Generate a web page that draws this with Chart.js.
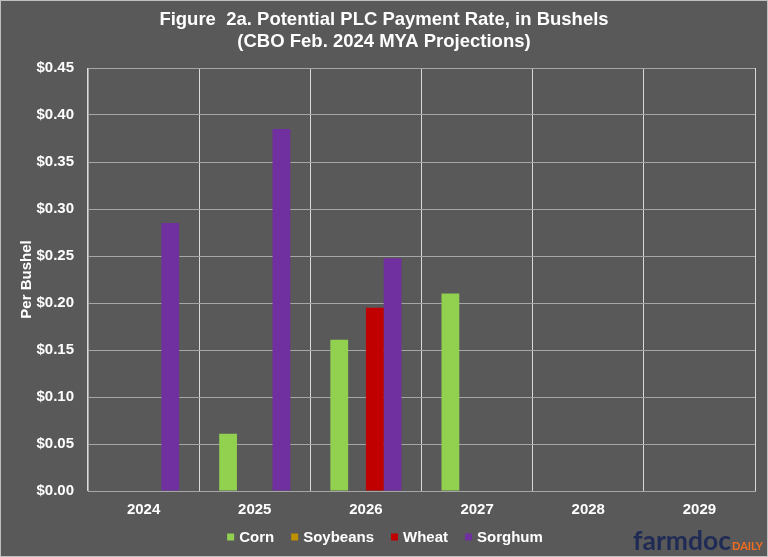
<!DOCTYPE html>
<html>
<head>
<meta charset="utf-8">
<script src="https://cdn.jsdelivr.net/npm/chart.js@4/dist/chart.umd.min.js"></script>
<style>
  html, body { margin: 0; padding: 0; background: #595959; }
  #wrap { width: 768px; height: 557px; }
</style>
</head>
<body>
<div id="wrap"><canvas id="c" width="768" height="557"></canvas></div>
<script>
const categories = ['2024', '2025', '2026', '2027', '2028', '2029'];
const corn     = [0, 0.061, 0.161, 0.210, 0, 0];
const soybeans = [0, 0, 0, 0, 0, 0];
const wheat    = [0, 0, 0.195, 0, 0, 0];
const sorghum  = [0.285, 0.385, 0.2475, 0, 0, 0];
const seriesNames = ['Corn', 'Soybeans', 'Wheat', 'Sorghum'];
const yTicks = [0, 0.05, 0.10, 0.15, 0.20, 0.25, 0.30, 0.35, 0.40, 0.45];
const titleLines = ['Figure  2a. Potential PLC Payment Rate, in Bushels', '(CBO Feb. 2024 MYA Projections)'];

const colors = ['#92D050', '#BF9000', '#C00000', '#7030A0'];
const FONT = '"Liberation Sans", Arial, sans-serif';
const LOGOFONT = 'Lato, "Open Sans", sans-serif';
const TEXT = '#FFFFFF';

function fitFont(ctx, text, weight, family, width) {
  ctx.font = weight + ' 20px ' + family;
  const w = ctx.measureText(text).width;
  const fs = 20 * width / w;
  ctx.font = weight + ' ' + fs + 'px ' + family;
}

const decor = {
  id: 'decor',
  beforeDraw(chart) {
    const ctx = chart.ctx;
    ctx.save();
    ctx.fillStyle = '#595959';
    ctx.fillRect(0, 0, chart.width, chart.height);
    ctx.restore();
  },
  afterDraw(chart) {
    const ctx = chart.ctx;
    ctx.save();
    // title
    ctx.fillStyle = TEXT;
    ctx.textAlign = 'center';
    ctx.textBaseline = 'alphabetic';
    ctx.font = 'bold 18.5px ' + FONT;
    ctx.fillText(titleLines[0], 384, 25);
    ctx.fillText(titleLines[1], 384, 47);

    // legend
    ctx.font = 'bold 15px ' + FONT;
    ctx.textAlign = 'left';
    ctx.textBaseline = 'middle';
    const box = 7, gap = 5, spacing = 17;
    const ds = chart.data.datasets;
    let total = 0;
    ds.forEach((d, i) => { total += box + gap + ctx.measureText(d.label).width + (i < ds.length - 1 ? spacing : 0); });
    let x = 385 - total / 2;
    const y = 537;
    ds.forEach((d) => {
      ctx.fillStyle = d.backgroundColor;
      ctx.fillRect(x, y - box / 2, box, box);
      x += box + gap;
      ctx.fillStyle = TEXT;
      ctx.fillText(d.label, x, y + 0.5);
      x += ctx.measureText(d.label).width + spacing;
    });

    // logo text
    ctx.textBaseline = 'alphabetic';
    ctx.textAlign = 'left';
    fitFont(ctx, 'farmdoc', 'bold', LOGOFONT, 98);
    ctx.fillStyle = '#1F2B55';
    ctx.fillText('farmdoc', 633, 550);
    fitFont(ctx, 'DAILY', 'bold', LOGOFONT, 31);
    ctx.fillStyle = '#F26C1F';
    ctx.fillText('DAILY', 732, 550);

    // outer frame
    ctx.strokeStyle = '#BFBFBF';
    ctx.lineWidth = 1;
    ctx.strokeRect(0.5, 0.5, chart.width - 1, chart.height - 1);
    ctx.restore();
  }
};

new Chart(document.getElementById('c'), {
  type: 'bar',
  data: {
    labels: categories,
    datasets: [
      { label: seriesNames[0], data: corn, backgroundColor: colors[0] },
      { label: seriesNames[1], data: soybeans, backgroundColor: colors[1] },
      { label: seriesNames[2], data: wheat, backgroundColor: colors[2] },
      { label: seriesNames[3], data: sorghum, backgroundColor: colors[3] }
    ]
  },
  options: {
    responsive: false,
    animation: false,
    devicePixelRatio: 1,
    layout: { padding: { top: 68, right: 13, left: 0, bottom: 0 } },
    datasets: { bar: { categoryPercentage: 0.64, barPercentage: 1.0, borderWidth: 0 } },
    plugins: {
      legend: { display: false },
      title: { display: false },
      tooltip: { enabled: false }
    },
    scales: {
      x: {
        grid: { color: '#D9D9D9', lineWidth: 1, drawTicks: false, offset: true },
        border: { display: true, color: '#A6A6A6' },
        ticks: { color: TEXT, font: { family: FONT, size: 15, weight: 'bold' }, padding: 10 },
        afterFit(scale) { scale.height = 66; }
      },
      y: {
        min: 0, max: 0.45,
        afterBuildTicks(scale) { scale.ticks = yTicks.map(v => ({ value: v })); },
        grid: { color: '#A6A6A6', lineWidth: 1, drawTicks: false },
        border: { display: true, color: '#A6A6A6' },
        ticks: {
          color: TEXT, padding: 14,
          font: { family: FONT, size: 15, weight: 'bold' },
          callback: (v) => '$' + Number(v).toFixed(2)
        },
        title: {
          display: true, text: 'Per Bushel', color: TEXT,
          font: { family: FONT, size: 15, weight: 'bold' },
          padding: { top: 18, bottom: 0 }
        },
        afterFit(scale) { scale.width = 88; }
      }
    }
  },
  plugins: [decor]
});
</script>
</body>
</html>
